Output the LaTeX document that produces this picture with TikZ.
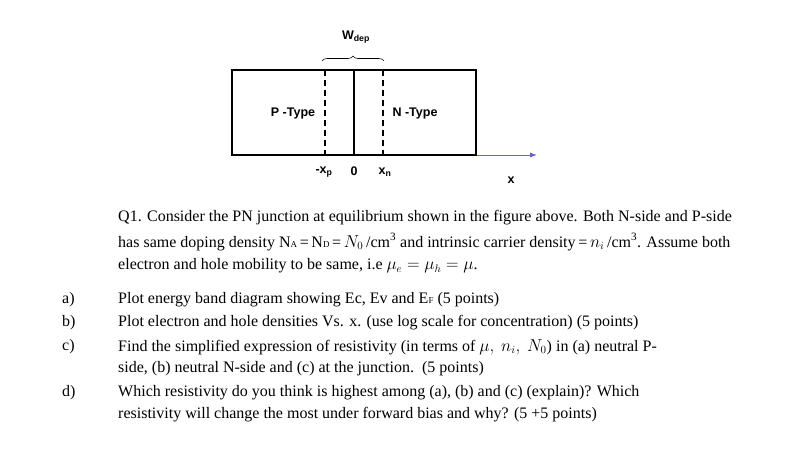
\documentclass[tikz,border=0pt]{standalone}
\usepackage{fontspec}
\setmainfont{Liberation Serif}
\newfontfamily\lbl{Liberation Sans}
\usetikzlibrary{decorations.pathreplacing,arrows.meta}
\begin{document}
\begin{tikzpicture}[x=1pt,y=-1pt,
  txt/.style={anchor=west,inner sep=0pt,font=\fontsize{16}{19}\selectfont},
  lab/.style={inner sep=0pt,font=\lbl\bfseries\fontsize{12.5}{14}\selectfont}]
\useasboundingbox (0,0) rectangle (801,456);
\coordinate (axs) at (245,155); \coordinate (axe) at (537,155);
\draw[-{Latex[length=7pt]},color=blue!50!gray!80,line width=1pt] (axs) -- (axe);
\draw[line width=1.5pt] (232,70) rectangle (476,155);
\draw[line width=1.5pt] (354,70) -- (354,155);
\draw[line width=1.5pt,dash pattern=on 6pt off 4pt] (325,70) -- (325,155);
\draw[line width=1.5pt,dash pattern=on 6pt off 4pt] (383,70) -- (383,155);
\draw[decorate,decoration={brace,amplitude=5pt},line width=0.6pt] (322,61) -- (384,61);
\node[lab] (w) at (356,37) {W\textsubscript{dep}};
\node[lab] (p) at (293,113) {P -Type};
\node[lab] (n) at (415,113) {N -Type};
\node[lab] (xp) at (324,172) {-x\textsubscript{p}};
\node[lab] (z) at (354,171) {0};
\node[lab] (xn) at (385,172) {x\textsubscript{n}};
\node[lab] (x) at (511,180) {x};
\node[txt] (l1) at (118,218) {Q1. Consider the PN junction at equilibrium shown in the figure above. Both N-side and P-side};
\node[txt] (l2) at (118,242) {has same doping density N{\small A}\,=\,N{\small D}\,=\,$N_0$\,/cm\textsuperscript{3} and intrinsic carrier density\,=\,$n_i$\,/cm\textsuperscript{3}. Assume both};
\node[txt] (l3) at (118,266) {electron and hole mobility to be same, i.e $\mu_e=\mu_h=\mu$.};
\node[txt] (a) at (62,300) {a)};
\node[txt] (b) at (62,323) {b)};
\node[txt] (c) at (62,347) {c)};
\node[txt] (d) at (62,393) {d)};
\node[txt] (ta) at (118,300) {Plot energy band diagram showing Ec, Ev and E{\small F} (5 points)};
\node[txt] (tb) at (118,323) {Plot electron and hole densities Vs. x. (use log scale for concentration) (5 points)};
\node[txt] (tc) at (118,347) {Find the simplified expression of resistivity (in terms of $\mu,\ n_i,\ N_0$) in (a) neutral P-};
\node[txt] (tc2) at (118,369) {side, (b) neutral N-side and (c) at the junction.\ \ (5 points)};
\node[txt] (td) at (118,393) {Which resistivity do you think is highest among (a), (b) and (c) (explain)? Which};
\node[txt] (td2) at (118,415) {resistivity will change the most under forward bias and why? (5 +5 points)};
\end{tikzpicture}
\end{document}
